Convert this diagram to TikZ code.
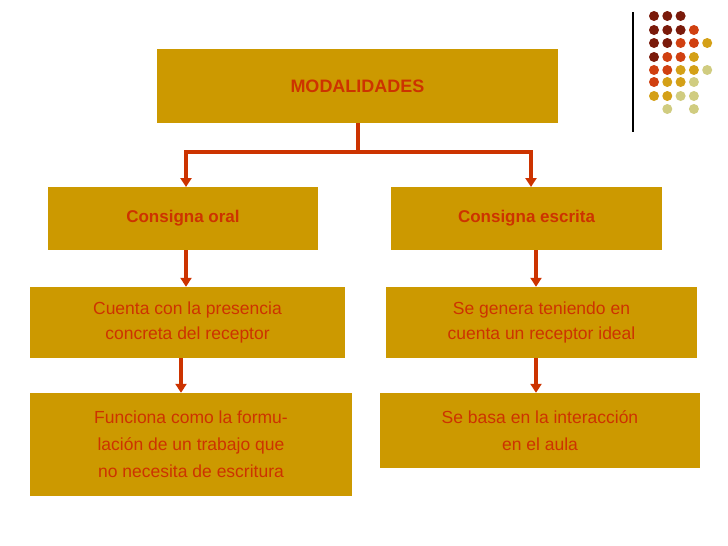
\documentclass[tikz,border=0pt]{standalone}
\usepackage{fontspec}
\setmainfont{Liberation Sans}
\usetikzlibrary{arrows.meta}
\definecolor{gbox}{HTML}{CC9900}
\definecolor{txt}{HTML}{CC3300}
\definecolor{dD}{HTML}{7A1A0A}
\definecolor{dR}{HTML}{D04010}
\definecolor{dG}{HTML}{D4A017}
\definecolor{dL}{HTML}{D0CC80}
\tikzset{
 box/.style={fill=gbox,draw=none,inner sep=0pt,text=txt,font=\fontsize{17}{21}\selectfont,align=center},
 conn/.style={draw=txt,line width=3.5pt,-{Triangle[length=9pt,width=11pt]}},
 dot/.style={circle,inner sep=0pt,minimum size=10pt}
}
\begin{document}
\begin{tikzpicture}[x=1pt,y=-1pt]
\useasboundingbox[fill=white] (0,0) rectangle (728,546);
\node[box,minimum width=401pt,minimum height=74pt,font=\fontsize{18}{22}\selectfont\bfseries] (m) at (357.5,86) {MODALIDADES};
\node[box,minimum width=270pt,minimum height=63pt,font=\fontsize{17}{21}\selectfont\bfseries] (o) at (183,218.5) {Consigna oral};
\node[box,minimum width=271pt,minimum height=63pt,font=\fontsize{17}{21}\selectfont\bfseries] (e) at (526.5,218.5) {Consigna escrita};
\node[box,minimum width=315pt,minimum height=71pt,font=\fontsize{17.5}{25}\selectfont] (o2) at (187.5,322.5) {Cuenta con la presencia\\ concreta del receptor};
\node[box,minimum width=311pt,minimum height=71pt,font=\fontsize{17.5}{25}\selectfont] (e2) at (541.5,322.5) { Se genera teniendo en\\cuenta un receptor ideal};
\node[box,minimum width=322pt,minimum height=103pt,font=\fontsize{17.5}{27}\selectfont] (o3) at (191,444.5) {Funciona como la formu-\\lación de un trabajo que \\ no necesita de escritura};
\node[box,minimum width=320pt,minimum height=75pt,font=\fontsize{17.5}{27}\selectfont] (e3) at (540,430.5) {Se basa en la interacción\\en el aula};
\coordinate (j) at (358,152);
\draw[draw=txt,line width=3.5pt] (m.south -| j) -- (j);
\draw[conn] (j) -- (186,152) -- (186,187);
\draw[conn] (j) -- (531,152) -- (531,187);
\draw[conn] (o.south -| 186,0) -- (o2.north -| 186,0);
\draw[conn] (e.south -| 536,0) -- (e2.north -| 536,0);
\draw[conn] (o2.south -| 181,0) -- (o3.north -| 181,0);
\draw[conn] (e2.south -| 536,0) -- (e3.north -| 536,0);
\draw[line width=1.2pt] (633,12) -- (633,132);
\foreach \r/\y/\cols in {1/16/{1/dD,2/dD,3/dD},2/30/{1/dD,2/dD,3/dD,4/dR},3/43/{1/dD,2/dD,3/dR,4/dR,5/dG},4/57/{1/dD,2/dR,3/dR,4/dG},5/70/{1/dR,2/dR,3/dG,4/dG,5/dL},6/82/{1/dR,2/dG,3/dG,4/dL},7/96/{1/dG,2/dG,3/dL,4/dL},8/109/{2/dL,4/dL}}{
 \foreach \c/\col in \cols { \node[dot,fill=\col] (d\r\c) at ({654+13.3*(\c-1)},\y) {}; }
}
\end{tikzpicture}
\end{document}
